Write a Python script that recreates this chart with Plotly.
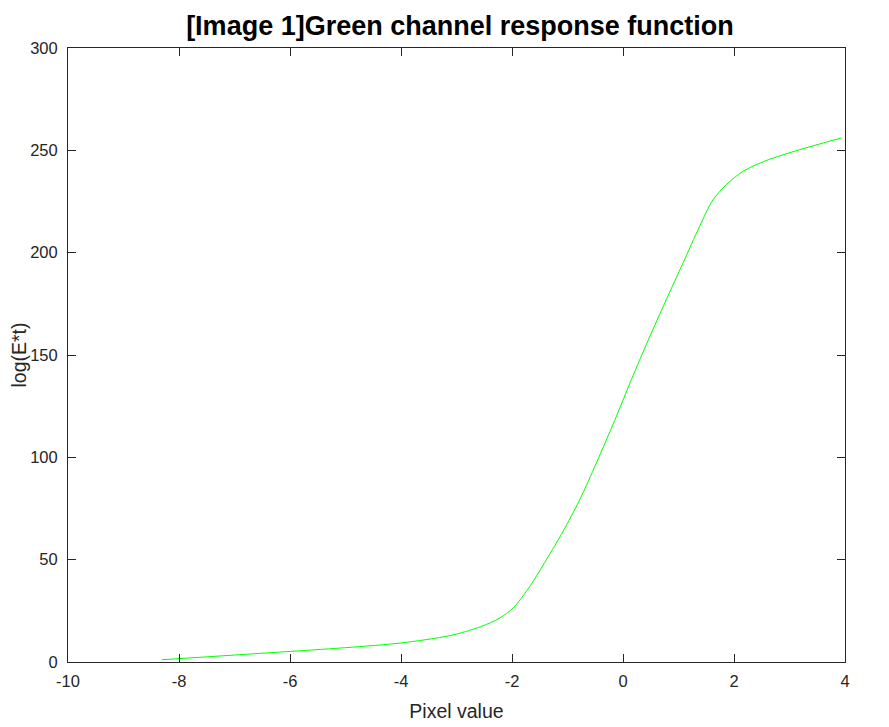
import plotly.graph_objects as go

# readings of the green channel response curve
pixel_value = [-8.31, -7.0, -5.0, -4.0, -3.12, -2.58, -2.22, -1.98, -1.68,
               -1.38, -1.08, -0.78, -0.48, -0.15, 0.15, 0.45, 0.78, 1.08,
               1.38, 1.62, 1.86, 2.16, 2.58, 3.18, 3.93]
log_et = [1.1, 3.4, 7.0, 9.3, 12.9, 17.1, 21.5, 26.4, 36.9,
          50.0, 63.8, 79.3, 97.2, 118.0, 137.9, 157.0, 177.0, 194.9,
          212.8, 225.8, 233.2, 239.7, 245.0, 250.3, 256.0]

x_ticks = [-10, -8, -6, -4, -2, 0, 2, 4]
x_tick_labels = ["-10", "-8", "-6", "-4", "-2", "0", "2", "4"]
y_ticks = [0, 50, 100, 150, 200, 250, 300]

font_name = "Liberation Sans, Arial"

fig = go.Figure()
fig.add_scatter(x=pixel_value, y=log_et, mode="lines",
                line=dict(color="#00ff00", width=1, shape="spline",
                          smoothing=0.8),
                showlegend=False)

axis_style = dict(showgrid=False, zeroline=False, showline=True,
                  linecolor="#262626", linewidth=1, mirror="ticks",
                  ticks="inside", ticklen=8, tickcolor="#262626",
                  automargin=False,
                  tickfont=dict(family=font_name, size=16.5, color="#262626"))

fig.update_xaxes(range=[-10, 4], tickvals=x_ticks, ticktext=x_tick_labels,
                 title_text="Pixel value",
                 title_font=dict(family=font_name, size=19.5, color="#262626"),
                 ticklabelstandoff=4, **axis_style)
fig.update_yaxes(range=[0, 300], tickvals=y_ticks, title_text="log(E*t)",
                 title_font=dict(family=font_name, size=19.5, color="#262626"),
                 ticklabelstandoff=6, **axis_style)

# page body has an 8px margin, so the figure starts at (8, 8)
fig.update_layout(
    width=881, height=719,
    margin=dict(l=60, r=44, t=40, b=65),
    plot_bgcolor="white", paper_bgcolor="white",
    title=dict(text="<b>[Image 1]Green channel response function</b>",
               x=0.513, xanchor="center", y=0.975, yanchor="middle",
               font=dict(family=font_name, size=27, color="black")),
)

fig.write_html("out.html")
